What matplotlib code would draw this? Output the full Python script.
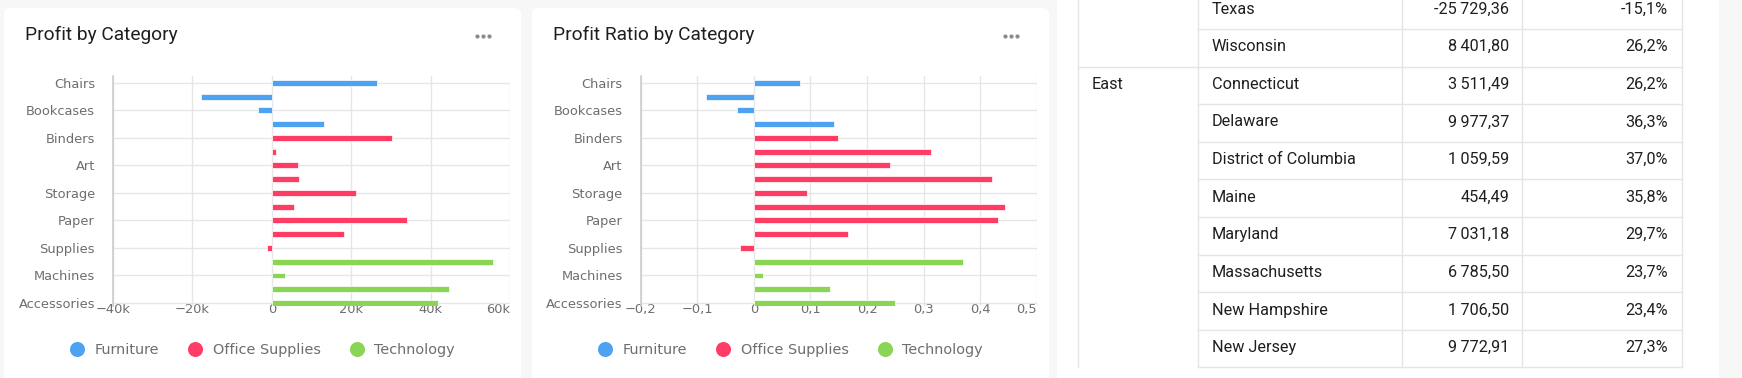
import matplotlib
matplotlib.use('Agg')
import matplotlib.pyplot as plt
from matplotlib.patches import FancyBboxPatch
from matplotlib.lines import Line2D
from matplotlib.ticker import FuncFormatter
import numpy as np

# sub-categories, top to bottom as drawn
subcats = ['Chairs', 'Tables', 'Bookcases', 'Furnishings', 'Binders', 'Fasteners', 'Art',
           'Envelopes', 'Storage', 'Labels', 'Paper', 'Appliances', 'Supplies', 'Copiers',
           'Machines', 'Phones', 'Accessories']
cat_of = ['Furniture'] * 4 + ['Office Supplies'] * 9 + ['Technology'] * 4
categories = ['Furniture', 'Office Supplies', 'Technology']
cat_colors = ['#4DA2F1', '#FF3D64', '#8AD554']

profit = [26590, -17725, -3473, 13059, 30222, 950, 6528, 6964, 21279, 5546, 34054,
          18138, -1189, 55618, 3385, 44516, 41937]
profit_ratio = [0.081, -0.085, -0.029, 0.142, 0.148, 0.313, 0.240, 0.421, 0.094, 0.444,
                0.432, 0.166, -0.024, 0.370, 0.017, 0.134, 0.249]

# table
tbl_region = ['', '', 'East', '', '', '', '', '', '', '']
tbl_state = ['Texas', 'Wisconsin', 'Connecticut', 'Delaware', 'District of Columbia', 'Maine',
             'Maryland', 'Massachusetts', 'New Hampshire', 'New Jersey']
tbl_profit = [-25729.36, 8401.80, 3511.49, 9977.37, 1059.59, 454.49, 7031.18, 6785.50,
              1706.50, 9772.91]
tbl_ratio = [-15.1, 26.2, 26.2, 36.3, 37.0, 35.8, 29.7, 23.7, 23.4, 27.3]

W, H = 1742, 378
BG = '#f7f7f7'
TICK_C = '#6e6e6e'
GRID_C = '#e6e6e6'
LINE_C = '#e5e5e5'
TXT_C = '#1f1f1f'
UI_FONT = ['Roboto', 'DejaVu Sans']

fig = plt.figure(figsize=(W / 100, H / 100), dpi=100, facecolor=BG)
bg = fig.add_axes([0, 0, 1, 1], zorder=0)
bg.set_xlim(0, W)
bg.set_ylim(H, 0)
bg.axis('off')

# cards
for x0, x1 in [(4, 521), (532, 1049)]:
    bg.add_patch(FancyBboxPatch((x0, 8), x1 - x0, 420, boxstyle='round,pad=0,rounding_size=6',
                                fc='white', ec='none'))
bg.add_patch(FancyBboxPatch((1057, -20), 1719 - 1057, 420, boxstyle='round,pad=0,rounding_size=4',
                            fc='white', ec='none'))


def fx(px):
    return px / W


def fy(py):
    return 1 - py / H


def draw_chart(left, right, title, values, xlim, fmt, card):
    bg.text(card[0] + 20.5, 35, title, fontsize=13.8, color=TXT_C, family=UI_FONT,
            va='center', ha='left')
    dx = card[1] - 38
    bg.plot([dx - 6.3, dx, dx + 6.3], [35.7] * 3, 'o', ms=3, color='#8a8a8a', mec='none')

    top, bottom = 76, 306
    ax = fig.add_axes([fx(left), fy(bottom), fx(right - left), (bottom - top) / H], zorder=2)
    ax.set_facecolor('none')
    pos = np.arange(len(subcats))
    vals = np.array(values)
    for cat, color in zip(categories, cat_colors):
        m = np.array([c == cat for c in cat_of])
        ax.barh(pos[m], vals[m], height=0.43, color=color, edgecolor='white', linewidth=0.5,
                label=cat, zorder=3)
    ax.set_xlim(*xlim)
    ax.set_ylim(len(subcats) - 1 + 0.22, -0.5)
    ax.set_yticks(pos[::2])
    ax.set_yticklabels(subcats[::2])
    ax.xaxis.set_major_formatter(FuncFormatter(fmt))
    ax.grid(True, color=GRID_C, lw=1)
    ax.set_axisbelow(True)
    for s in ['top', 'right', 'bottom']:
        ax.spines[s].set_visible(False)
    ax.spines['left'].set_color('#cccccc')
    ax.spines['left'].set_linewidth(1.2)
    ax.tick_params(axis='y', length=0, pad=13, labelsize=9.4, labelcolor=TICK_C)
    ax.tick_params(axis='x', length=0, pad=-2, labelsize=9.4, labelcolor=TICK_C)
    fig.canvas.draw()
    labels = ax.get_xticklabels()
    labels[-1].set_ha('right')

    handles = [Line2D([], [], marker='o', ls='', ms=10.8, color=c, mec='none') for c in cat_colors]
    ax.legend(handles, categories, loc='center', ncol=3, frameon=False,
              bbox_to_anchor=(fx((card[0] + card[1]) / 2), fy(350)),
              bbox_transform=fig.transFigure, fontsize=10.4, labelcolor=TICK_C,
              handlelength=1.0, handletextpad=0.7, columnspacing=2.0)
    return ax


def k_fmt(v, p):
    if abs(v) < 1e-9:
        return '0'
    s = f'{abs(v) / 1000:.0f}k'
    return ('\u2212' + s) if v < 0 else s


def r_fmt(v, p):
    if abs(v) < 1e-9:
        return '0'
    s = f'{abs(v):.1f}'.replace('.', ',')
    return ('\u2212' + s) if v < 0 else s


draw_chart(113, 510, 'Profit by Category', profit, (-40000, 60000), k_fmt, (4, 521))
draw_chart(640.7, 1036.7, 'Profit Ratio by Category', profit_ratio, (-0.2, 0.5), r_fmt, (532, 1049))

# table
col_x = [1078, 1198, 1402, 1522, 1682]
row_h = 37.6
first_line = 29
n = len(tbl_state)
last_line = first_line + row_h * (n - 1)
for x in col_x:
    bg.plot([x, x], [0, last_line], color=LINE_C, lw=1.0)
for i in range(n):
    yb = first_line + row_h * i
    x_start = col_x[0] if (i + 1 < n and tbl_region[i + 1]) else col_x[1]
    bg.plot([x_start, col_x[-1]], [yb, yb], color=LINE_C, lw=1.0)


def fmt_money(v):
    s = f'{abs(v):,.2f}'.replace(',', '\u2009').replace('.', ',')
    return ('-' + s) if v < 0 else s


for i in range(n):
    yc = first_line + row_h * (i - 0.5) - 1
    if tbl_region[i]:
        bg.text(col_x[0] + 14, yc, tbl_region[i], fontsize=11.7, color=TXT_C, family=UI_FONT,
                va='center', ha='left')
    bg.text(col_x[1] + 14, yc, tbl_state[i], fontsize=11.7, color=TXT_C, family=UI_FONT,
            va='center', ha='left')
    bg.text(col_x[3] - 13, yc, fmt_money(tbl_profit[i]), fontsize=11.7, color=TXT_C,
            family=UI_FONT, va='center', ha='right')
    bg.text(col_x[4] - 14, yc, f'{tbl_ratio[i]:.1f}%'.replace('.', ','), fontsize=11.7,
            color=TXT_C, family=UI_FONT, va='center', ha='right')

fig.savefig('out.png', dpi=100, facecolor=BG)
